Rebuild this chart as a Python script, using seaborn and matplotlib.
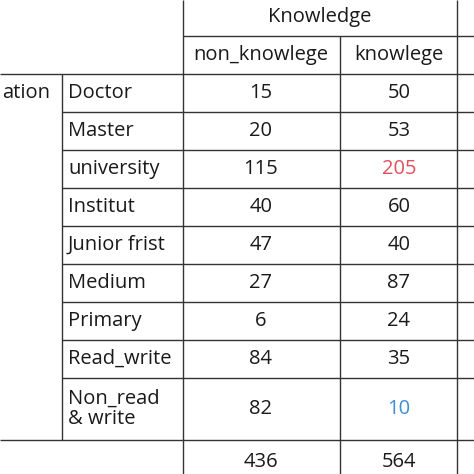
import matplotlib
matplotlib.use("Agg")
import matplotlib.pyplot as plt
import seaborn as sns

sns.set_style("white")
plt.rcParams['font.family'] = ['Open Sans', 'DejaVu Sans']

group_label = "ation"
col_header = "Knowledge"
sub_headers = ["non_knowlege", "knowlege"]
categories = ["Doctor", "Master", "university", "Institut", "Junior frist",
              "Medium", "Primary", "Read_write", "Non_read\n& write"]
non_knowledge = [15, 20, 115, 40, 47, 27, 6, 84, 82]
knowledge = [50, 53, 205, 60, 40, 87, 24, 35, 10]
totals = [436, 564]
highlight = {(2, 1): "#e0505f", (8, 1): "#3d8fd6"}

fig = plt.figure(figsize=(4.74, 4.74), dpi=100)
ax = fig.add_axes([0, 0, 1, 1])
ax.set_xlim(0, 474)
ax.set_ylim(474, 0)
ax.axis("off")

lc = "#333333"
lw = 1.0
row_edges = [74, 112, 150, 188, 226, 264, 302, 340, 378, 440]
fs = 14.5

ax.vlines([183], 0, 474, color=lc, lw=lw)
ax.vlines([457], 0, 474, color=lc, lw=lw)
ax.vlines([340], 36, 474, color=lc, lw=lw)
ax.vlines([62], 74, 440, color=lc, lw=lw)
ax.hlines(36, 183, 474, color=lc, lw=lw)
ax.hlines(74, 0, 474, color=lc, lw=lw)
ax.hlines(row_edges[1:-1], 62, 474, color=lc, lw=lw)
ax.hlines(440, 0, 474, color=lc, lw=lw)

tc = "#1a1a1a"
ax.text(320, 17, col_header, ha="center", va="center", fontsize=fs, color=tc)
ax.text(261, 55, sub_headers[0], ha="center", va="center", fontsize=fs, color=tc)
ax.text(399, 55, sub_headers[1], ha="center", va="center", fontsize=fs, color=tc)
ax.text(50, 93, group_label, ha="right", va="center", fontsize=fs, color=tc)

for i, cat in enumerate(categories):
    yc = (row_edges[i] + row_edges[i + 1]) / 2
    ax.text(68, yc, cat, ha="left", va="center", fontsize=fs, linespacing=1.05, color=tc)
    for j, v in enumerate([non_knowledge[i], knowledge[i]]):
        ax.text([261, 399][j], yc, str(v), ha="center", va="center", fontsize=fs,
                color=highlight.get((i, j), tc))

ax.text(261, 462, str(totals[0]), ha="center", va="center", fontsize=fs, color=tc)
ax.text(399, 462, str(totals[1]), ha="center", va="center", fontsize=fs, color=tc)

fig.savefig("out.png", dpi=100)
